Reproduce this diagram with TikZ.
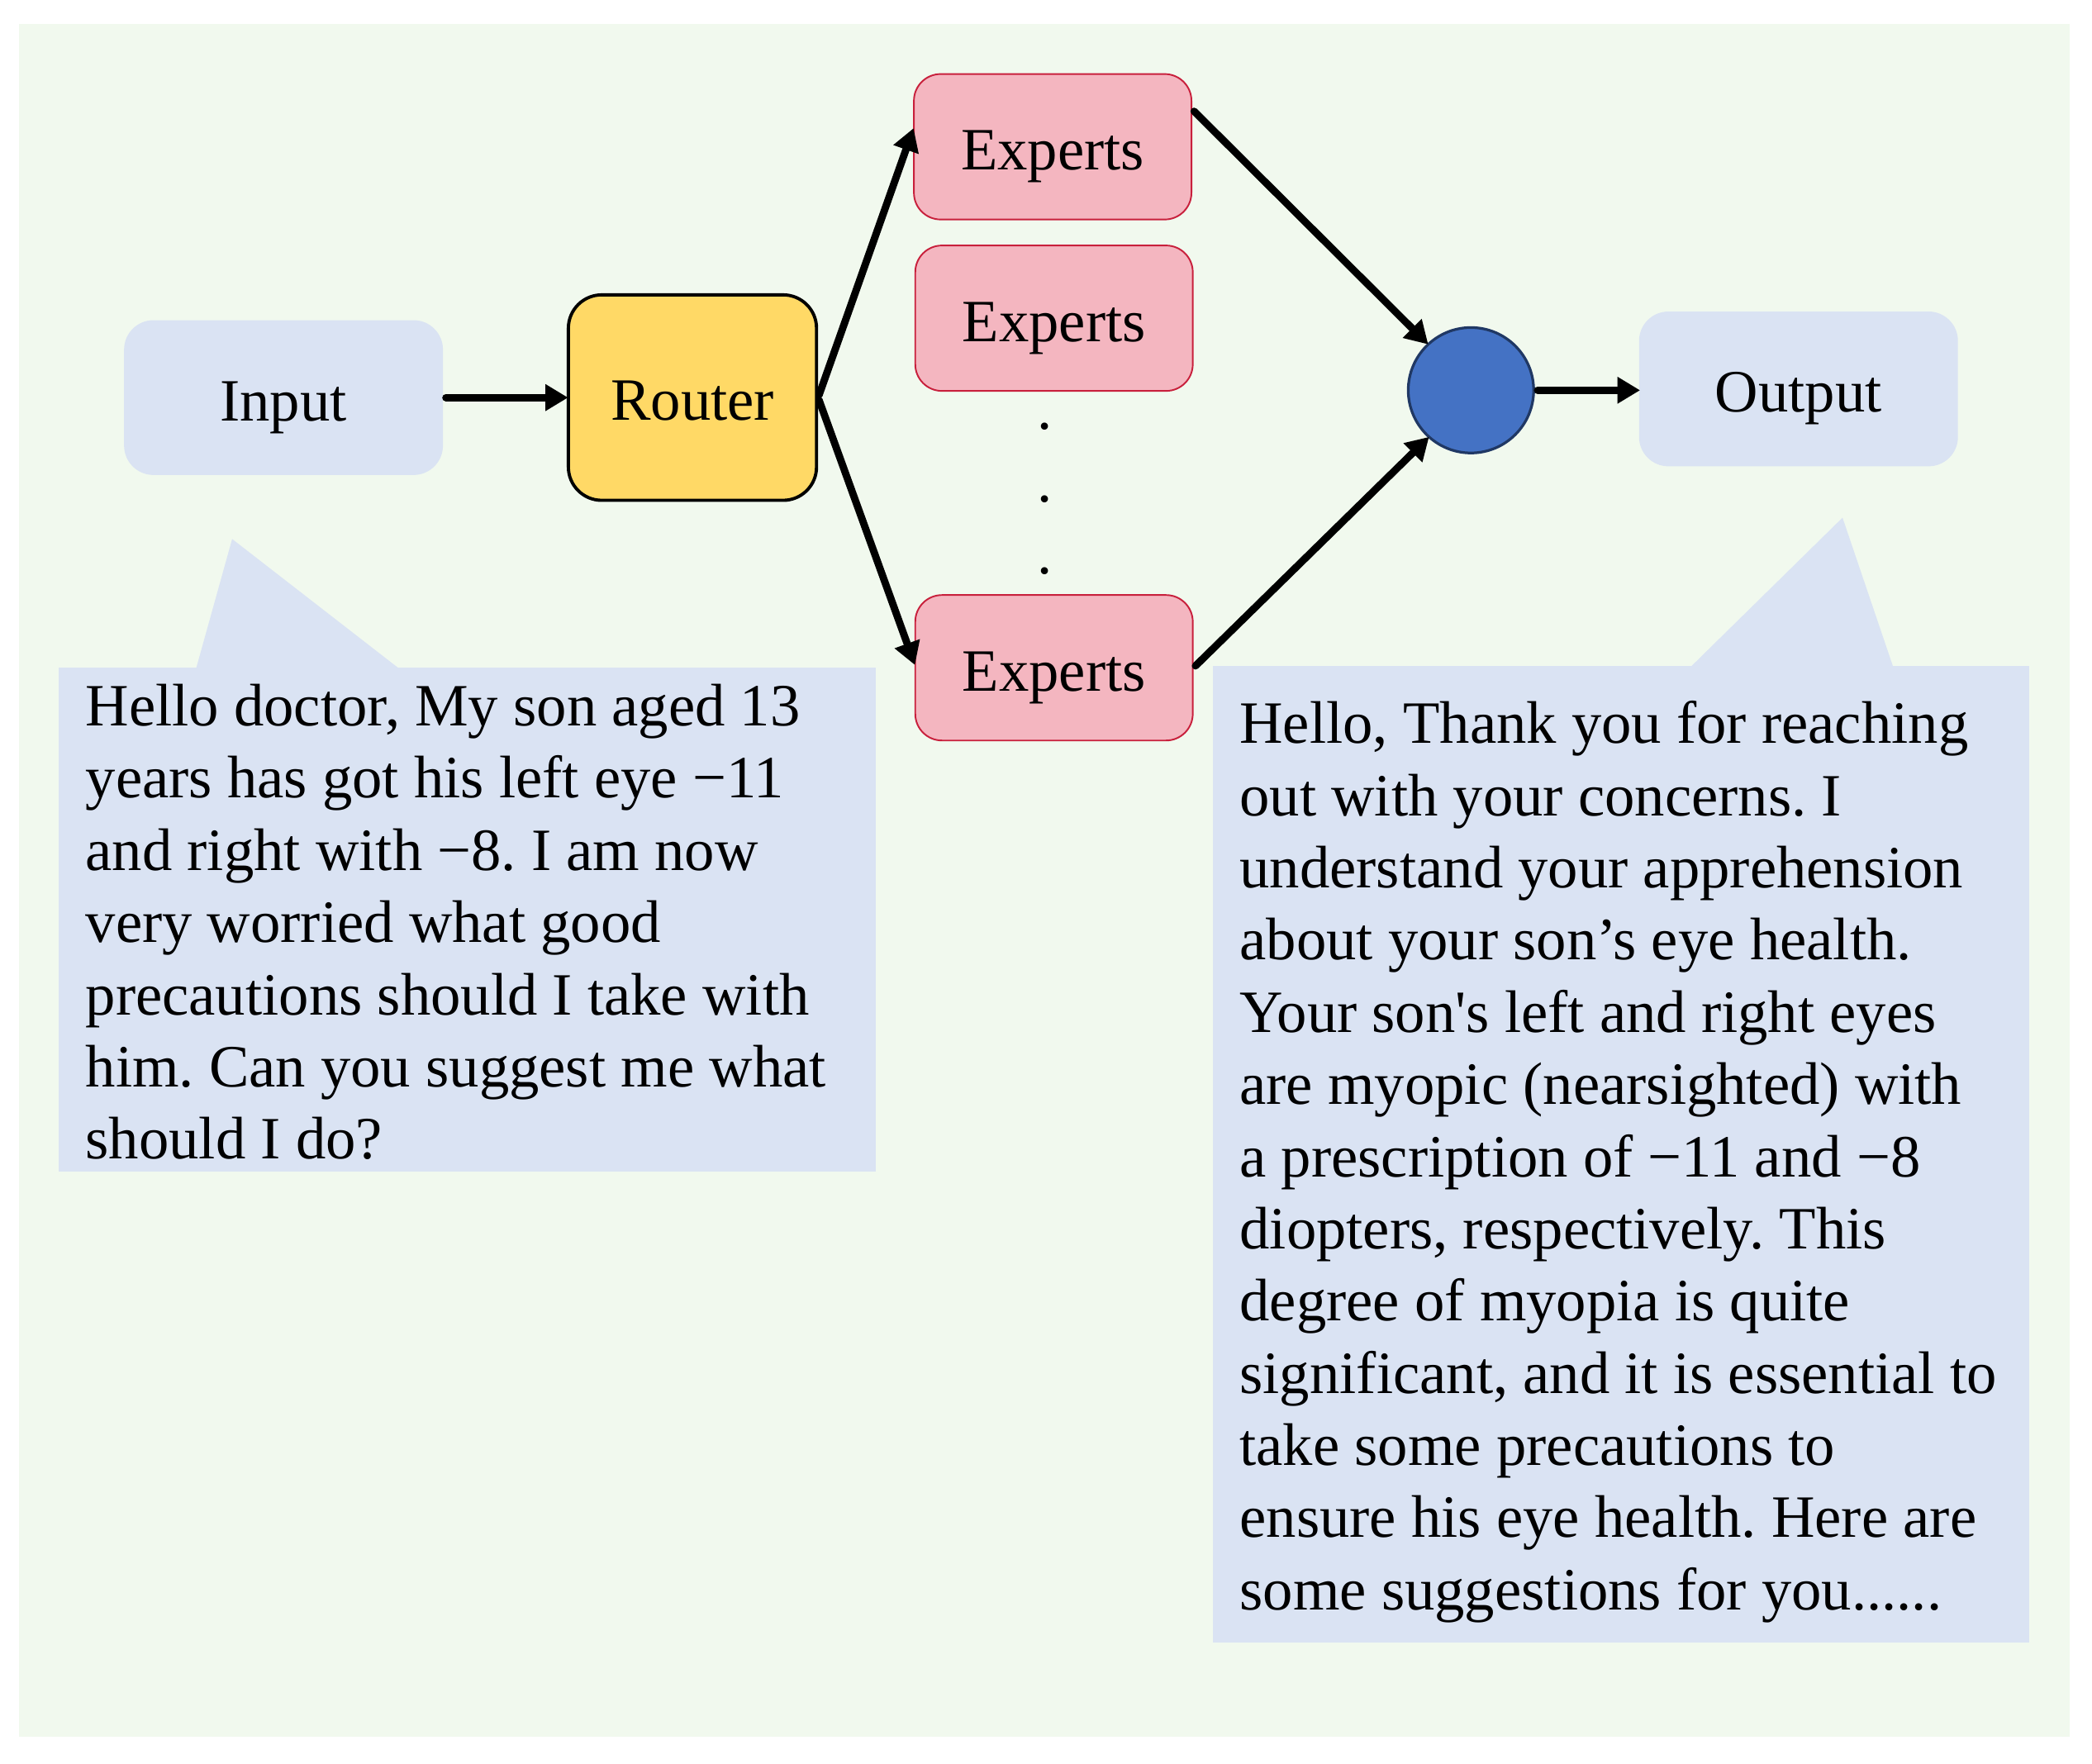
\documentclass[tikz,border=0pt]{standalone}
\usepackage{fontspec}
\setmainfont{Liberation Serif}
\usetikzlibrary{arrows.meta,shapes.geometric}
\definecolor{panelgreen}{HTML}{F1F9EE}
\definecolor{notefill}{HTML}{DAE3F3}
\definecolor{routerfill}{HTML}{FFD966}
\definecolor{expertfill}{HTML}{F4B6C0}
\definecolor{expertline}{HTML}{C8203C}
\definecolor{mergefill}{HTML}{4472C4}
\definecolor{mergeline}{HTML}{203864}
\tikzset
{
	bodytext/.style = {font=\fontsize{45}{54.1}\selectfont\frenchspacing},
	labeltext/.style = {font=\fontsize{45}{54}\selectfont, text height=35pt, text depth=0pt},
	iobox/.style = {rectangle, rounded corners=22pt, fill=notefill, align=center, minimum width=239pt, minimum height=116pt, labeltext},
	routerbox/.style = {rectangle, rounded corners=25pt, draw=black, line width=2.4pt, fill=routerfill, align=center, minimum width=186pt, minimum height=154pt, labeltext, text height=34pt},
	expertbox/.style = {rectangle, rounded corners=20pt, draw=expertline, line width=1.2pt, fill=expertfill, align=center, minimum width=208pt, minimum height=109pt, labeltext},
	mergenode/.style = {circle, draw=mergeline, line width=2pt, fill=mergefill, minimum size=94pt},
	notebox/.style = {rectangle, fill=notefill, anchor=north west, align=flush left, inner xsep=20pt, inner ysep=0pt, text width=572pt, bodytext},
	notetip/.style = {fill=notefill},
	flow/.style = {line width=5.5pt, line cap=round, -{Triangle[length=17pt,width=19pt]}, shorten >=-1pt, shorten <=2pt},
	dotmark/.style = {anchor=base, inner sep=0pt, bodytext}
}

\begin{document}
\begin{tikzpicture}[x=1pt,y=-1pt]
	\useasboundingbox (0,0) rectangle (1568,1322);
	\fill[panelgreen] (14,18) rectangle (1551,1302);
	% speech bubble tips
	\fill[notetip] (147,501) -- (174,404) -- (299,501) -- cycle;
	\fill[notetip] (1267,500) -- (1381,388) -- (1419,500) -- cycle;
	\node[notebox, minimum height=378pt] (question) at (44,500) {\rule{0pt}{35pt}Hello doctor, My son aged 13\\years has got his left eye −11\\and right with −8. I am now\\very worried what good\\precautions should I take with\\him. Can you suggest me what\\should I do?};
	\node[notebox, minimum height=732pt] (answer) at (909,499) {\rule{0pt}{43pt}Hello, Thank you for reaching\\out with your concerns. I\\understand your apprehension\\about your son’s eye health.\\Your son\textquotesingle s left and right eyes\\are myopic (nearsighted) with\\a prescription of −11 and −8\\diopters, respectively. This\\degree of myopia is quite\\significant, and it is essential to\\take some precautions to\\ensure his eye health. Here are\\some suggestions for you......};
	\node[iobox] (input) at (212.5,298) {Input};
	\node[routerbox] (router) at (519,298) {Router};
	\node[expertbox] (expertsa) at (789,110) {Experts};
	\node[expertbox] (expertsb) at (790,238.5) {Experts};
	\node[expertbox] (expertsc) at (790,500.5) {Experts};
	\node[dotmark] (dota) at (783,322) {.};
	\node[dotmark] (dotb) at (783,376) {.};
	\node[dotmark] (dotc) at (783,430) {.};
	\node[mergenode] (merge) at (1102.5,292.5) {};
	\node[iobox] (output) at (1348,291.5) {Output};
	\draw[flow] (input.east) -- (router.west);
	\draw[flow] (router.east) -- ([yshift=13pt]expertsa.west);
	\draw[flow] (router.east) -- ([yshift=3pt]expertsc.west);
	\draw[flow] ([yshift=28pt]expertsa.east) -- (merge.133);
	\draw[flow] (expertsc.east) -- (merge.228);
	\draw[flow] (merge.east) -- (merge.east -| output.west);
\end{tikzpicture}
\end{document}
